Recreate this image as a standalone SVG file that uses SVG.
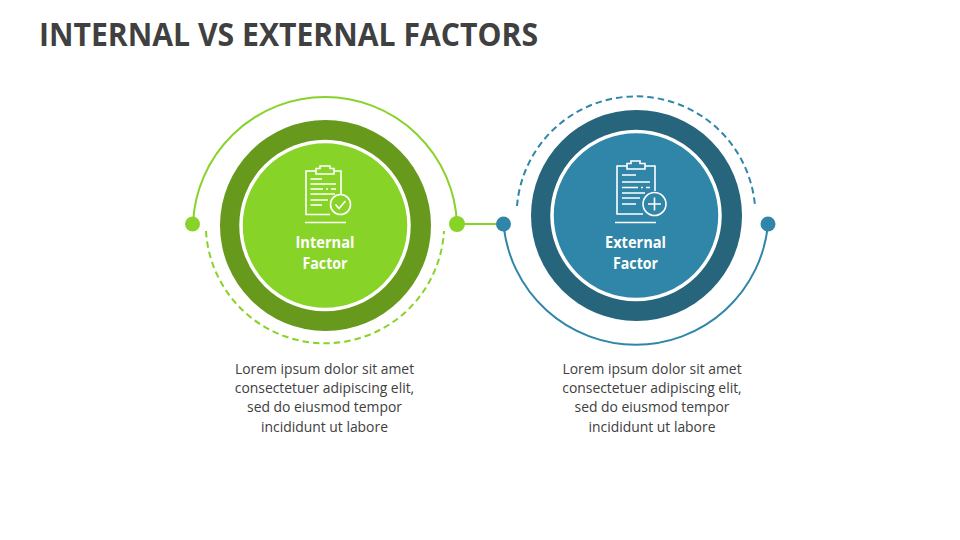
<svg xmlns="http://www.w3.org/2000/svg" width="960" height="540" viewBox="0 0 960 540">
<style>
text{font-family:"Open Sans","Noto Sans","Liberation Sans",sans-serif}
.title{font-size:32px;font-weight:700;fill:#404040}
.lab{font-size:15.5px;font-weight:700;fill:#fff;text-anchor:middle}
.body{font-size:13.9px;fill:#404040;text-anchor:middle}
.ic{fill:none;stroke:#fff;stroke-width:1.6}
.g{stroke:#88d328;fill:none;stroke-width:2}
.b{stroke:#3086a8;fill:none;stroke-width:2}
.dash{stroke-dasharray:6.500 4}
</style>
<rect width="960" height="540" fill="#fff"/>
<text class="title" x="39" y="46" textLength="499" lengthAdjust="spacingAndGlyphs">INTERNAL VS EXTERNAL FACTORS</text>
<g id="connectors">
<path class="g" d="M193 224A132.100 132.100 0 0 1 457 224"/>
<path class="g dash" d="M206 231A119.200 119.200 0 0 0 444 231"/>
<path class="b" d="M503.500 224A132.800 132.800 0 0 0 768 224"/>
<path class="b dash" d="M517 206A119.400 119.400 0 0 1 755 206"/>
<path d="M457 224H503.500" stroke="#88d328" stroke-width="2" fill="none"/>
<circle cx="192.500" cy="224" r="7.500" fill="#88d328"/>
<circle cx="457" cy="224" r="8" fill="#88d328"/>
<circle cx="503.500" cy="224" r="7.500" fill="#3086a8"/>
<circle cx="768" cy="224" r="7.500" fill="#3086a8"/>
</g>
<g id="internal">
<circle cx="325.500" cy="225.500" r="105.500" fill="#66991c"/>
<circle cx="325" cy="225.500" r="84" fill="#88d328" stroke="#fff" stroke-width="3.500"/>
<path class="ic" d="M316 171H306V214.500H330M334 171H341V195M316 171V168.500H320V166H330V168.500H334V174H316Z"/>
<path class="ic" d="M310.500 179H322M310.500 184H336M310.500 189H323M326 189H328M331 189H336M310.500 194H335M310.500 200H328M310.500 205H322"/>
<circle class="ic" cx="340.500" cy="204.500" r="10"/>
<path class="ic" d="M335.500 204.500L339 208.500L345.500 201"/>
<path class="ic" d="M305 222.500H346"/>
<text class="lab" x="325" y="248" textLength="59" lengthAdjust="spacingAndGlyphs">Internal</text>
<text class="lab" x="325" y="269" textLength="45" lengthAdjust="spacingAndGlyphs">Factor</text>
</g>
<g id="external">
<circle cx="636.500" cy="215.500" r="105.500" fill="#26657c"/>
<circle cx="636" cy="215.500" r="84" fill="#3086a8" stroke="#fff" stroke-width="3.500"/>
<path class="ic" d="M627 166H617V214H643M645 166H655V191M627 166V163.500H631V161H640V163.500H645V169H627Z"/>
<path class="ic" d="M622 175H636M622 182H650M622 187.500H638M641 187.500H643M646 187.500H650M622 193H645M622 198H640M622 204H636"/>
<circle class="ic" cx="654.500" cy="204" r="11.500"/>
<path class="ic" d="M654.500 197.500V210.500M648 204H661"/>
<path class="ic" d="M615 222.500H656"/>
<text class="lab" x="635.500" y="248" textLength="61" lengthAdjust="spacingAndGlyphs">External</text>
<text class="lab" x="635.500" y="269" textLength="45" lengthAdjust="spacingAndGlyphs">Factor</text>
</g>
<g id="internal-text">
<text class="body" x="324.500" y="374">Lorem ipsum dolor sit amet</text>
<text class="body" x="324.500" y="393">consectetuer adipiscing elit,</text>
<text class="body" x="324.500" y="412">sed do eiusmod tempor</text>
<text class="body" x="324.500" y="432">incididunt ut labore</text>
</g>
<g id="external-text">
<text class="body" x="652" y="374">Lorem ipsum dolor sit amet</text>
<text class="body" x="652" y="393">consectetuer adipiscing elit,</text>
<text class="body" x="652" y="412">sed do eiusmod tempor</text>
<text class="body" x="652" y="432">incididunt ut labore</text>
</g>
</svg>
